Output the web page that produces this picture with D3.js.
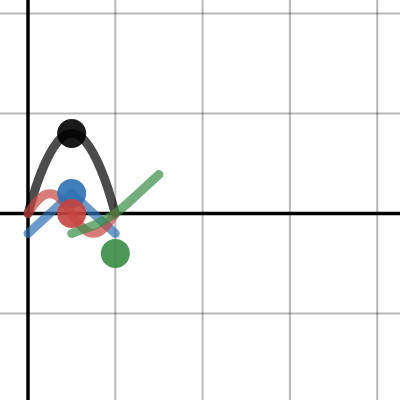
<!DOCTYPE html>
<html>
<head>
<meta charset="utf-8">
<script src="https://cdn.jsdelivr.net/npm/d3@7"></script>
<style>
  html, body { margin: 0; padding: 0; background: #fff; }
  svg { display: block; }
</style>
</head>
<body>
<div id="chart"></div>
<script>
// Grid ticks (graph units)
const xTicks = [0, 1, 2, 3, 4];
const yTicks = [-1, 0, 1, 2];

// Curves
const blackCurve = [[0, 0], [0.1, 0.29], [0.2, 0.51], [0.3, 0.67], [0.4, 0.77], [0.5, 0.8],
  [0.6, 0.77], [0.7, 0.67], [0.8, 0.51], [0.9, 0.29], [1, 0]];
const blueCurve = [[0, -0.2], [0.5, 0.2], [1, -0.2]];
const redCurve = [[0, 0], [0.1, 0.12], [0.2, 0.19], [0.3, 0.19], [0.4, 0.12], [0.5, 0],
  [0.6, -0.12], [0.7, -0.19], [0.8, -0.19], [0.9, -0.12], [1, 0]];
const greenCurve = [[0.5, -0.2], [0.625, -0.16], [0.75, -0.12], [0.875, -0.065], [1, 0],
  [1.125, 0.09], [1.25, 0.19], [1.375, 0.29], [1.5, 0.39]];

// Points
const points = [
  { name: 'black', x: 0.5, y: 0.8 },
  { name: 'blue', x: 0.5, y: 0.2 },
  { name: 'red', x: 0.5, y: 0 },
  { name: 'green', x: 1, y: -0.4 }
];

const colors = { black: '#000000', blue: '#2d70b3', red: '#c74440', green: '#388c46' };

const width = 400, height = 400;

// 0 sits at (28, 213.5); one unit is 87.3px across, 100px down
const x = d3.scaleLinear().domain([-28 / 87.3, (width - 28) / 87.3]).range([0, width]);
const y = d3.scaleLinear().domain([-(height - 213.5) / 100, 213.5 / 100]).range([height, 0]);

const svg = d3.select('#chart').append('svg')
  .attr('width', width)
  .attr('height', height)
  .attr('viewBox', [0, 0, width, height]);

svg.append('rect').attr('width', width).attr('height', height).attr('fill', '#fff');

// Grid
const grid = svg.append('g').attr('stroke', '#000').attr('stroke-opacity', 0.28).attr('stroke-width', 2);
grid.selectAll('line.v')
  .data(xTicks.filter(d => d !== 0))
  .join('line')
  .attr('class', 'v')
  .attr('x1', d => x(d)).attr('x2', d => x(d))
  .attr('y1', 0).attr('y2', height);
grid.selectAll('line.h')
  .data(yTicks.filter(d => d !== 0))
  .join('line')
  .attr('class', 'h')
  .attr('x1', 0).attr('x2', width)
  .attr('y1', d => y(d)).attr('y2', d => y(d));

// Axes
svg.append('line')
  .attr('x1', 0).attr('x2', width)
  .attr('y1', y(0)).attr('y2', y(0))
  .attr('stroke', '#000').attr('stroke-width', 3.5);
svg.append('line')
  .attr('x1', x(0)).attr('x2', x(0))
  .attr('y1', 0).attr('y2', height)
  .attr('stroke', '#000').attr('stroke-width', 3.5);

// Curves
const line = d3.line()
  .x(d => x(d[0]))
  .y(d => y(d[1]))
  .curve(d3.curveCatmullRom);

const curves = [
  { name: 'black', data: blackCurve },
  { name: 'blue', data: blueCurve, linear: true },
  { name: 'red', data: redCurve },
  { name: 'green', data: greenCurve }
];

svg.append('g')
  .selectAll('path')
  .data(curves)
  .join('path')
  .attr('d', d => d.linear ? d3.line().x(p => x(p[0])).y(p => y(p[1]))(d.data) : line(d.data))
  .attr('fill', 'none')
  .attr('stroke', d => colors[d.name])
  .attr('stroke-opacity', 0.7)
  .attr('stroke-width', 9)
  .attr('stroke-linecap', 'round')
  .attr('stroke-linejoin', 'round');

// Points
svg.append('g')
  .selectAll('circle')
  .data(points)
  .join('circle')
  .attr('cx', d => x(d.x))
  .attr('cy', d => y(d.y))
  .attr('r', 14.5)
  .attr('fill', d => colors[d.name])
  .attr('fill-opacity', 0.9);
</script>
</body>
</html>
